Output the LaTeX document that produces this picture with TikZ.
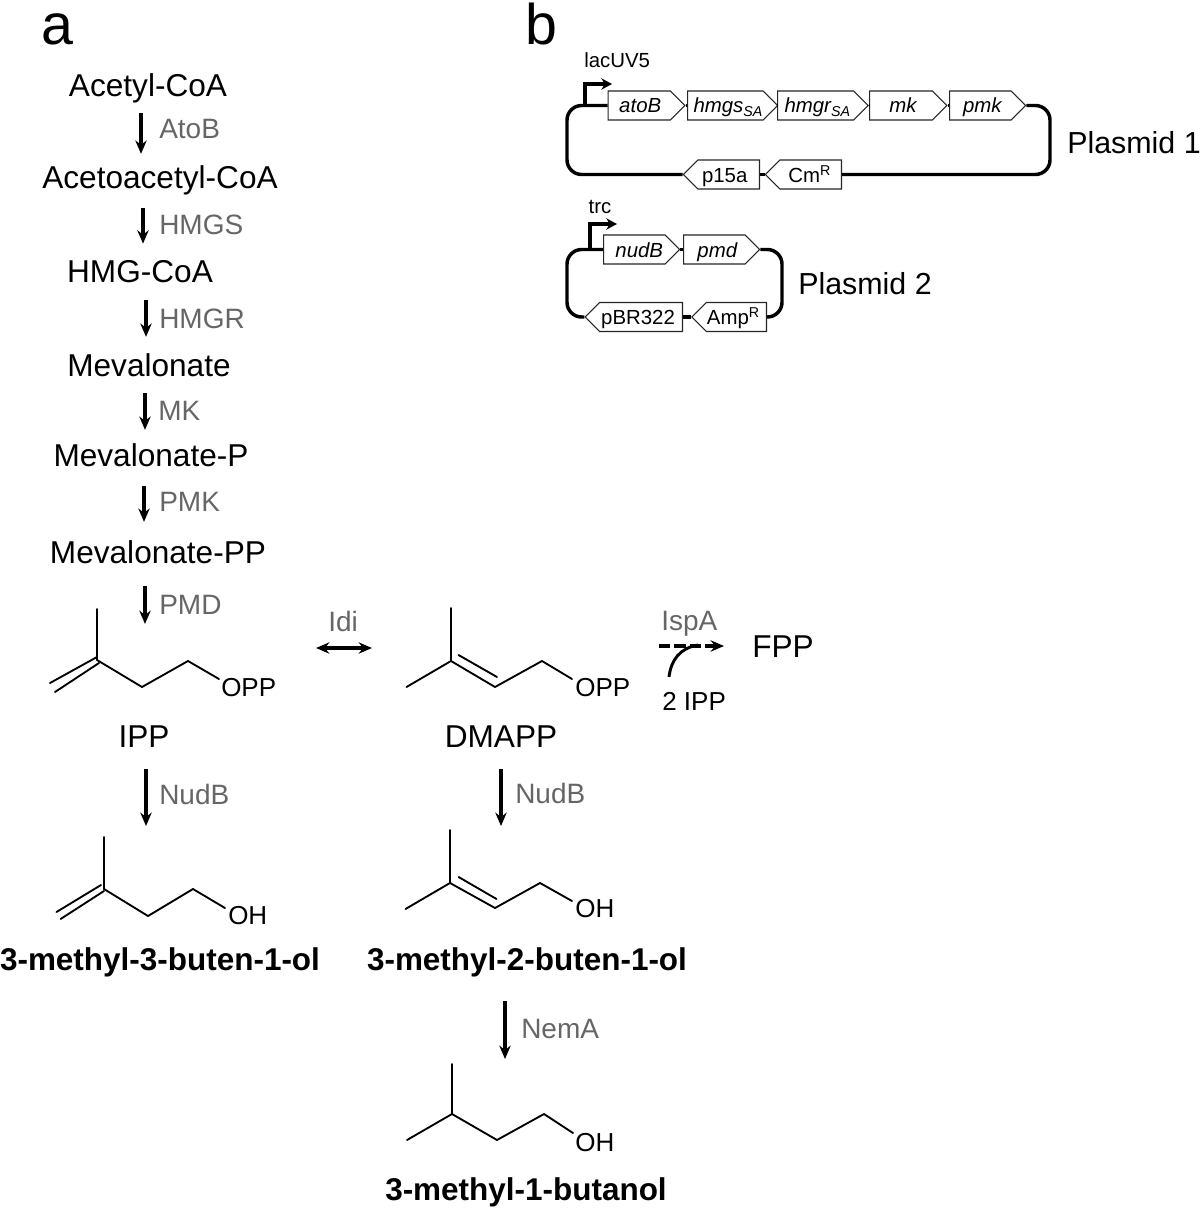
\documentclass[tikz,border=0pt]{standalone}
\usepackage{fontspec}
\setmainfont{Liberation Sans}
\usetikzlibrary{calc,arrows.meta,shapes.symbols}
\newcommand{\fs}[1]{\fontsize{#1}{#1}\selectfont}
\definecolor{enz}{HTML}{666666}
\tikzset{
  x=0.75pt,y=-0.75pt,
  chem/.style={anchor=base,inner sep=0pt,font=\fs{23.7},text depth=0pt},
  prod/.style={anchor=base,inner sep=0pt,font=\fs{23.6}\bfseries,text depth=0pt},
  enzyme/.style={anchor=base west,inner sep=0pt,font=\fs{21},text=enz,text depth=0pt},
  atomlabel/.style={anchor=base west,inner sep=0pt,font=\fs{19.5},text depth=0pt},
  panel/.style={anchor=base west,inner sep=0pt,font=\fs{43},text height=32pt,text depth=0pt},
  plasname/.style={anchor=base west,inner sep=0pt,font=\fs{22.8},text depth=0pt},
  promo/.style={anchor=base,inner sep=0pt,font=\fs{15.3},text depth=0pt},
  rxn/.style={line width=2.6pt,-{Stealth[length=10pt,width=8.5pt]}},
  bond/.style={line width=1.4pt,line cap=round,line join=round},
  geneR/.style={draw=black!85,line width=.8pt,fill=white,shape=signal,signal to=east,signal from=nowhere,signal pointer angle=90,inner sep=0pt,minimum height=21.75pt,font=\fs{15.3}\itshape,anchor=west,text height=13pt,text depth=1.75pt},
  geneL/.style={draw=black!85,line width=.8pt,fill=white,shape=signal,signal to=west,signal from=nowhere,signal pointer angle=90,inner sep=0pt,minimum height=21.75pt,font=\fs{15.3},anchor=east,text height=13pt,text depth=1.75pt},
  link/.style={line width=2.6pt},
  backbone/.style={line width=2.6pt,rounded corners=11pt},
  tss/.style={line width=2.6pt,-{Stealth[length=8pt,width=8.5pt]}},
}
\begin{document}
\begin{tikzpicture}
\path[use as bounding box] (0,0) rectangle (1200,1209);
% panel letters
\node[panel] (pa) at (41,45) {a};
\node[panel] (pb) at (525,45) {b};
% metabolites
\node[chem] (m1) at (148,97) {Acetyl-CoA};
\node[chem] (m2) at (160,189) {Acetoacetyl-CoA};
\node[chem] (m3) at (140,282) {HMG-CoA};
\node[chem] (m4) at (149,376) {Mevalonate};
\node[chem] (m5) at (151,466) {Mevalonate-P};
\node[chem] (m6) at (158,563) {Mevalonate-PP};
\node[chem] (ipp) at (144,747) {IPP};
\node[chem] (dmapp) at (501,747) {DMAPP};
\node[chem] (fpp) at (783,657) {FPP};
\node[prod] (p1) at (160,970) {3-methyl-3-buten-1-ol};
\node[prod] (p2) at (527,970) {3-methyl-2-buten-1-ol};
\node[prod] (p3) at (526,1200) {3-methyl-1-butanol};
% enzymes
\node[enzyme] (e1) at (159,139) {AtoB};
\node[enzyme] (e2) at (159,234) {HMGS};
\node[enzyme] (e3) at (159,328) {HMGR};
\node[enzyme] (e4) at (158,420) {MK};
\node[enzyme] (e5) at (159,511) {PMK};
\node[enzyme] (e6) at (159,614) {PMD};
\node[enzyme] (e7) at (159,804) {NudB};
\node[enzyme] (e8) at (515,803) {NudB};
\node[enzyme] (e9) at (521,1038) {NemA};
\node[enzyme] (idi) at (328,631) {Idi};
\node[enzyme] (ispa) at (661,630) {IspA};
\node[atomlabel] (ipp2) at (662,710) {2 IPP};
% pathway arrows
\draw[rxn] ($(m1.south)+(-7,16)$) -- ($(m2.north)+(-19,-12)$);
\draw[rxn] ($(m2.south)+(-17,19)$) -- ($(m3.north)+(3,-16)$);
\draw[rxn] ($(m3.south)+(6,18)$) -- ($(m4.north)+(-3,-16)$);
\draw[rxn] ($(m4.south)+(-4,17)$) -- ($(m5.north)+(-6,-13)$);
\draw[rxn] ($(m5.south)+(-7,20)$) -- ($(m6.north)+(-14,-18)$);
\coordinate (a6e) at (145,624);
\coordinate (a7e) at (146,826);
\coordinate (a8e) at (501,826);
\coordinate (a9e) at (505,1059);
\draw[rxn] ($(m6.south)+(-13,23)$) -- (a6e);
\draw[rxn] ($(ipp.south)+(2,22)$) -- (a7e);
\draw[rxn] ($(dmapp.south)+(0,22)$) -- (a8e);
\draw[rxn] ($(p2.south)+(-22,31)$) -- (a9e);
\coordinate (idL) at (316,648);
\coordinate (idR) at (372,648);
\draw[line width=2.6pt,{Stealth[length=10pt,width=8.5pt]}-{Stealth[length=10pt,width=8.5pt]}] (idL) -- (idR);
\coordinate (isA) at (659,646);
\coordinate (isB) at (708,646);
\coordinate (isC) at (724,646);
\draw[line width=2.6pt,dash pattern=on 8.5pt off 3pt] (isA) -- (isB);
\draw[rxn] (isB) -- (isC);
\draw[line width=2.2pt] (669,677) .. controls (671,660) and (680,648) .. (698,645);
% IPP
\draw[bond] (97,609) -- (97,660) -- (142,687) -- (188,661) -- (219,679);
\draw[bond] (97,657) -- (50,683);
\draw[bond] (99,663) -- (55,692);
\node[atomlabel] (o1) at (221,696) {OPP};
% DMAPP
\draw[bond] (451,608) -- (451,661) -- (406.5,687);
\draw[bond] (451,661) -- (495,687) -- (542,661) -- (572,679);
\draw[bond] (458.5,655) -- (497,677);
\node[atomlabel] (o2) at (575,696) {OPP};
% 3-methyl-3-buten-1-ol
\draw[bond] (104,837) -- (104,889) -- (148,916) -- (193,889) -- (225,908);
\draw[bond] (101,885) -- (56.5,912);
\draw[bond] (104,891) -- (60.6,919);
\node[atomlabel] (o3) at (228,924) {OH};
% 3-methyl-2-buten-1-ol
\draw[bond] (450,830) -- (450,883) -- (405.5,909);
\draw[bond] (450,883) -- (495,908) -- (540,883) -- (572,901);
\draw[bond] (458.6,877) -- (496.5,899);
\node[atomlabel] (o4) at (575,917) {OH};
% 3-methyl-1-butanol
\draw[bond] (452,1064) -- (452,1114) -- (407,1140);
\draw[bond] (452,1114) -- (497,1140) -- (544,1114) -- (573,1133);
\node[atomlabel] (o5) at (575,1151) {OH};
% plasmid 1
\node[geneR,minimum width=57.5pt] (g1) at (607.6,105.5) {\hspace*{1.5pt}atoB};
\node[geneR,minimum width=63.5pt] (g2) at (687,105.5) {\hspace*{4.5pt}hmgs\textsubscript{SA}};
\node[geneR,minimum width=68pt] (g3) at (777,105.5) {\hspace*{3pt}hmgr\textsubscript{SA}};
\node[geneR,minimum width=58pt] (g4) at (869,105.5) {\hspace*{3pt}mk};
\node[geneR,minimum width=57pt] (g5) at (949,105.5) {\hspace*{3pt}pmk};
\node[geneL,minimum width=57pt] (g6) at (760,174.5) {p15a\hspace*{6pt}};
\node[geneL,minimum width=57pt] (g7) at (842,174.5) {Cm\textsuperscript{R}\hspace*{1.5pt}};
\draw[link] (g1.east) -- (g2.west);
\draw[link] (g2.east) -- (g3.west);
\draw[link] (g3.east) -- (g4.west);
\draw[link] (g4.east) -- (g5.west);
\draw[link] (g7.west) -- (g6.east);
\coordinate (c1r) at (1050,105.5);
\coordinate (c1l) at (567,174.5);
\draw[backbone] (g5.east) -- (c1r) |- (g7.east);
\draw[backbone] (g6.west) -- (c1l) |- (g1.west);
\coordinate (t1a) at (585,105.5);
\coordinate (t1b) at (612,84);
\draw[tss] (t1a) |- (t1b);
\node[promo,anchor=base west] (lac) at (584,68) {lacUV5};
\node[plasname] (pl1) at (1067,153) {Plasmid 1};
% plasmid 2
\node[geneR,minimum width=57pt] (h1) at (603,249.5) {\hspace*{7.5pt}nudB};
\node[geneR,minimum width=57pt] (h2) at (683,249.5) {\hspace*{4.5pt}pmd};
\node[geneL,minimum width=73pt] (h3) at (683,317) {pBR322\hspace*{4.5pt}};
\node[geneL,minimum width=56pt] (h4) at (767,317) {Amp\textsuperscript{R}\hspace*{4.5pt}};
\draw[link] (h1.east) -- (h2.west);
\draw[link] (h4.west) -- (h3.east);
\coordinate (c2r) at (782,249.5);
\coordinate (c2l) at (567,317);
\draw[backbone] (h2.east) -- (c2r) |- (h4.east);
\draw[backbone] (h3.west) -- (c2l) |- (h1.west);
\coordinate (t2a) at (590,249.5);
\coordinate (t2b) at (617,224);
\draw[tss] (t2a) |- (t2b);
\node[promo] (trc) at (600,213) {trc};
\node[plasname] (pl2) at (798,294) {Plasmid 2};
\end{tikzpicture}
\end{document}
